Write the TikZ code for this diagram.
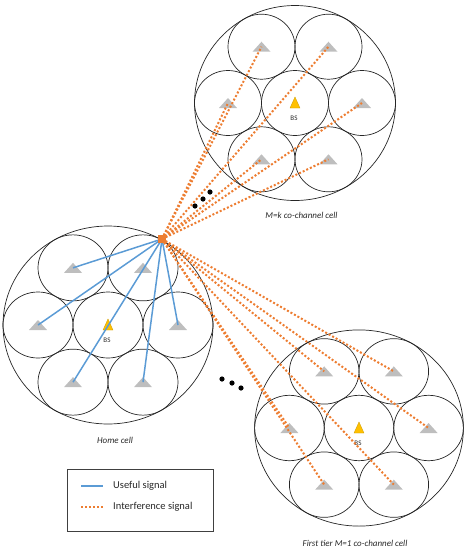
\documentclass[tikz,border=0pt]{standalone}
\usepackage{fontspec}
\setmainfont{Carlito}
\usetikzlibrary{calc}
\definecolor{sigblue}{RGB}{91,155,213}
\definecolor{intorange}{RGB}{237,125,49}
\definecolor{bsyellow}{RGB}{255,192,0}
\definecolor{uegrey}{RGB}{190,190,190}
\definecolor{txtgrey}{RGB}{40,40,40}
\newcommand\hexcluster[5]{%
  \coordinate (#1bs) at (#2,#3);
  \coordinate (#1tl) at (#2-#4,#3-1.732*#5);
  \coordinate (#1tr) at (#2+#4,#3-1.732*#5);
  \coordinate (#1l)  at (#2-2*#4,#3);
  \coordinate (#1r)  at (#2+2*#4,#3);
  \coordinate (#1bl) at (#2-#4,#3+1.732*#5);
  \coordinate (#1br) at (#2+#4,#3+1.732*#5);
  \draw[cellc] (#1bs) ellipse [x radius=3*#4pt, y radius=3*#5pt];
  \foreach \p in {bs,tl,tr,l,r,bl,br}{
    \draw[cellc] (#1\p) ellipse [x radius=#4pt, y radius=#5pt];
  }
  \foreach \p in {tl,tr,l,r,bl,br}{
    \fill[uegrey, shift={(#1\p)}] (-9,5) -- (9,5) -- (0,-5) -- cycle;
  }
  \filldraw[fill=bsyellow, draw=bsyellow!80!black, line width=0.3pt, shift={(#1bs)}] (-5,5) -- (5,5) -- (0,-6) -- cycle;
  \node[bslabel] (#1bslab) at ($(#1bs)+(-1,15)$) {BS};
}
\begin{document}
\begin{tikzpicture}[x=1pt,y=-1pt,
  cellc/.style={draw=black!85, line width=0.7pt},
  useful/.style={draw=sigblue, line width=1.5pt},
  interf/.style={draw=intorange, line width=2pt, dash pattern=on 2pt off 2pt},
  bslabel/.style={font=\fontsize{7}{8}\selectfont, text=txtgrey, inner sep=0pt},
  celllabel/.style={font=\fontsize{9}{10}\selectfont\itshape, text=txtgrey, inner sep=0pt},
  legtext/.style={font=\fontsize{10.5}{12}\selectfont, text=txtgrey, inner sep=0pt, anchor=west},
  dot/.style={circle, fill=black, inner sep=0pt, minimum size=5.2pt}
]
\useasboundingbox (0,0) rectangle (469,550);

% clusters
\hexcluster{t}{295}{103}{33.5}{32.5}
\hexcluster{h}{108}{325}{35}{33}
\hexcluster{b}{359}{428}{34.8}{32.7}

% user
\coordinate (u) at (162,239);

% useful signals
\foreach \p in {tl,l,bl,br,r}{
  \draw[useful] (u) -- (h\p);
}
% interference signals
\foreach \p in {tl,tr,l,r,bl,br}{
  \draw[interf] (u) -- (t\p);
  \draw[interf] (u) -- (b\p);
}
\node[fill=intorange, minimum size=8pt, inner sep=0pt] (user) at (u) {};

% dots
\node[dot] (d1) at (195,206) {};
\node[dot] (d2) at (203,199) {};
\node[dot] (d3) at (210,192) {};
\node[dot] (e1) at (222,379) {};
\node[dot] (e2) at (232,383) {};
\node[dot] (e3) at (241,388) {};

% labels
\node[celllabel] (lt) at (301.5,215) {M=k co-channel cell};
\node[celllabel] (lh) at (115,440) {Home cell};
\node[celllabel] (lb) at (355,543) {First tier M=1 co-channel cell};

% legend
\draw[draw=black!75, line width=0.8pt] (67,469) rectangle (213,531);
\coordinate (ua) at (81,486);
\coordinate (ub) at (103,486);
\coordinate (ia) at (81,507);
\coordinate (ib) at (104,507);
\draw[useful] (ua) -- (ub);
\draw[interf] (ia) -- (ib);
\node[legtext] (lu) at (113,486) {Useful signal};
\node[legtext] (li) at (113,506.5) {Interference signal};
\end{tikzpicture}
\end{document}
